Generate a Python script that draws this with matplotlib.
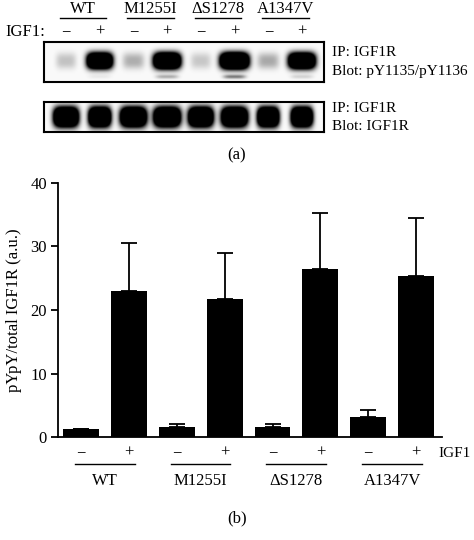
import numpy as np
import matplotlib
matplotlib.use('Agg')
import matplotlib.pyplot as plt
from matplotlib.transforms import blended_transform_factory

plt.rcParams['font.family'] = ['Liberation Serif', 'DejaVu Serif']
plt.rcParams['font.size'] = 12

# data
groups = ['WT', 'M1255I', '\u0394S1278', 'A1347V']
igf1 = ['\u2212', '+']

# blot band darkness (values >1 saturate), lanes: WT-, WT+, M-, M+, d-, d+, A-, A+
py_band = [0.22, 2.6, 0.3, 2.8, 0.2, 3.0, 0.32, 2.6]
py_low = [0.0, 0.06, 0.0, 0.3, 0.0, 0.5, 0.0, 0.15]
total_band = [2.6, 2.6, 2.6, 2.6, 2.6, 2.6, 2.6, 2.6]

# quantification
minus_mean = [1.3, 1.6, 1.6, 3.1]
minus_err = [0.0, 0.4, 0.4, 1.1]
plus_mean = [23.0, 21.8, 26.4, 25.3]
plus_err = [7.5, 7.2, 8.8, 9.2]

W, H = 474, 540
fig = plt.figure(figsize=(W / 100, H / 100), dpi=100)


def px_axes(left, top, right, bottom):
    return fig.add_axes([left / W, 1 - bottom / H, (right - left) / W, (bottom - top) / H])


def blot_image(ax, centers, amps, yc, wx, wy, extra=None):
    xs = np.linspace(-0.65, 7.65, 700)
    ys = np.linspace(0, 1, 140)
    X, Y = np.meshgrid(xs, ys)
    img = np.zeros_like(X) + 0.02
    for i, a in enumerate(amps):
        w = wx[i]
        img += a * np.exp(-(np.abs(X - centers[i]) / w) ** 4 - (np.abs(Y - yc) / wy) ** 2.5)
    if extra is not None:
        for i, a in enumerate(extra[0]):
            img += a * np.exp(-(np.abs(X - centers[i]) / 0.33) ** 4 - ((Y - extra[1]) / extra[2]) ** 2)
    ax.imshow(np.clip(img, 0, 1), cmap='gray_r', vmin=0, vmax=1, origin='lower',
              extent=[-0.65, 7.65, 0, 1], aspect='auto', interpolation='bilinear')
    ax.set_xlim(-0.65, 7.65)
    ax.set_ylim(0, 1)
    ax.set_xticks([])
    ax.set_yticks([])
    for s in ax.spines.values():
        s.set_linewidth(1.5)


lanes = np.arange(8)

# (a) blots
ax1 = px_axes(44, 42, 324, 82)
wx_py = [0.3, 0.38, 0.32, 0.4, 0.3, 0.42, 0.32, 0.4]
blot_image(ax1, lanes, py_band, 0.53, wx_py, 0.2, extra=(py_low, 0.13, 0.05))

ax2 = px_axes(44, 102, 324, 132)
wx_tot = [0.37, 0.33, 0.39, 0.4, 0.37, 0.39, 0.32, 0.32]
blot_image(ax2, lanes, total_band, 0.5, wx_tot, 0.33)

tr1 = blended_transform_factory(ax1.transData, ax1.transAxes)
for g, name in enumerate(groups):
    a, b = lanes[2 * g], lanes[2 * g + 1]
    ax1.plot([a - 0.18, b + 0.2], [1.61, 1.61], color='black', lw=1, transform=tr1, clip_on=False)
    ax1.text((a + b) / 2 + 0.01, 1.73, name, ha='center', va='baseline',
             transform=tr1, clip_on=False)
    ax1.text(a, 1.25, igf1[0], ha='center', va='center', transform=tr1)
    ax1.text(b, 1.25, igf1[1], ha='center', va='center', transform=tr1)
ax1.text(-0.62, 1.25, 'IGF1:', ha='right', va='center', transform=tr1)

fig.text(332 / W, 1 - 52 / H, 'IP: IGF1R', ha='left', va='center', fontsize=11)
fig.text(332 / W, 1 - 71 / H, 'Blot: pY1135/pY1136', ha='left', va='center', fontsize=11)
fig.text(332 / W, 1 - 108 / H, 'IP: IGF1R', ha='left', va='center', fontsize=11)
fig.text(332 / W, 1 - 127 / H, 'Blot: IGF1R', ha='left', va='center', fontsize=11)
fig.text(237 / W, 1 - 155 / H, '(a)', ha='center', va='center')

# (b) bar chart
ax = px_axes(58, 183, 442, 437)
xm = lanes[0::2]
xp = lanes[1::2]
bw = 0.75
ax.errorbar(xm, minus_mean, yerr=[np.zeros(4), minus_err], fmt='none', ecolor='black',
            elinewidth=1.3, capsize=6, capthick=1.3, zorder=1)
ax.errorbar(xp, plus_mean, yerr=[np.zeros(4), plus_err], fmt='none', ecolor='black',
            elinewidth=1.3, capsize=6, capthick=1.3, zorder=1)
ax.bar(xm, minus_mean, width=bw, color='black', zorder=2)
ax.bar(xp, plus_mean, width=bw, color='black', zorder=2)

ax.set_xlim(-0.48, 7.54)
ax.set_ylim(0, 40)
ax.set_yticks([0, 10, 20, 30, 40])
ax.set_xticks([])
ax.spines['top'].set_visible(False)
ax.spines['right'].set_visible(False)
ax.spines['left'].set_linewidth(1.3)
ax.spines['bottom'].set_linewidth(1.3)
ax.tick_params(axis='y', direction='out', length=5, width=1.3, labelsize=12, pad=3)
ax.set_ylabel('pYpY/total IGF1R (a.u.)', labelpad=6)

tr = blended_transform_factory(ax.transData, ax.transAxes)
for g, name in enumerate(groups):
    a, b = xm[g], xp[g]
    ax.text(a, -0.063, igf1[0], ha='center', va='center', transform=tr)
    ax.text(b, -0.063, igf1[1], ha='center', va='center', transform=tr)
    ax.plot([a - 0.13, b + 0.12], [-0.106, -0.106], color='black', lw=1, transform=tr, clip_on=False)
    ax.text((a + b) / 2, -0.172, name, ha='center', va='center', transform=tr)
ax.text(7.47, -0.063, 'IGF1', ha='left', va='center', fontsize=11, transform=tr, clip_on=False)

fig.text(237 / W, 1 - 518 / H, '(b)', ha='center', va='center')

fig.savefig('out.png', dpi=100)
